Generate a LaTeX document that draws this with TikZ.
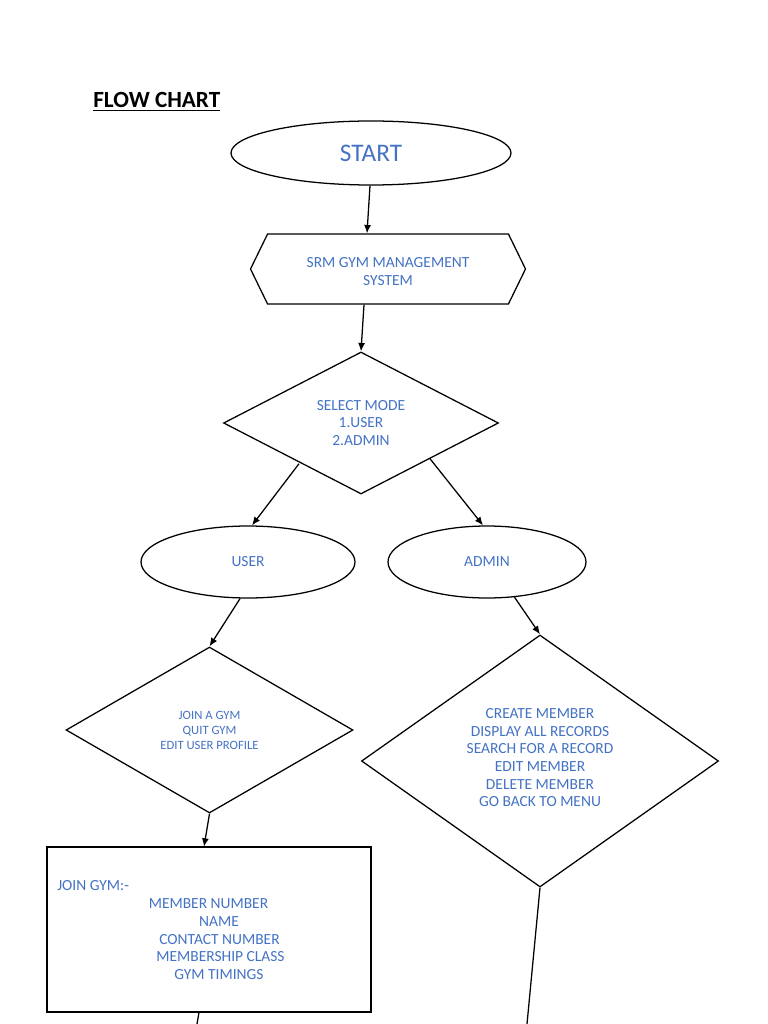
\documentclass[tikz,border=0pt]{standalone}
\usepackage{fontspec}
\setmainfont{Carlito}
\usetikzlibrary{calc,arrows.meta,shapes.geometric,shapes.symbols}
\definecolor{wordblue}{HTML}{4472C4}
\def\px{0.025cm}
\def\bluetext{\color{wordblue}\fontsize{11}{12.5}\selectfont}

\tikzset{
	flowline/.style={line width=0.9pt},
	flowarrow/.style={flowline, -{Latex[length=6pt,width=5pt]}},
	oval/.style={ellipse, draw, line width=0.9pt, inner sep=0pt, font=\bluetext},
	choice/.style={diamond, draw, line width=0.9pt, inner sep=0pt, align=center, font=\bluetext},
}

\begin{document}
\begin{tikzpicture}[x=\px, y=-\px]
			%%%%% START %%%%%
			\useasboundingbox (0, 0) rectangle (768, 1024);
			
			\node[anchor=base west, inner sep=0pt] (title) at (93, 108) {\fontsize{16.5}{19}\selectfont\bfseries\underline{FLOW CHART}};
			
			\node[oval, minimum width=280*\px, minimum height=64*\px, font=\color{wordblue}\fontsize{18}{21}\selectfont] (start) at (371, 153) {START};
			
			\node[signal, signal to=west and east, signal pointer angle=128, draw, line width=0.9pt, inner sep=0pt,
				minimum width=275*\px, minimum height=70*\px, font=\bluetext] (system) at (388, 269) {\raisebox{-2.8pt}[\height][\depth]{\begin{tabular}{@{}c@{}}SRM GYM MANAGEMENT\\SYSTEM\end{tabular}}};
			
			\node[choice, minimum width=275*\px, minimum height=142*\px] (mode) at (361, 423) {SELECT MODE\\1.USER\\2.ADMIN};
			
			\node[oval, minimum width=214*\px, minimum height=72*\px] (user) at (248, 562) {USER};
			\node[oval, minimum width=198*\px, minimum height=72*\px] (admin) at (487, 562) {ADMIN};
			
			\node[choice, minimum width=287*\px, minimum height=166*\px, font=\color{wordblue}\fontsize{9}{10.7}\selectfont] (usermenu) at (209.5, 730) {JOIN A GYM\\QUIT GYM\\EDIT USER PROFILE};
			\node[choice, minimum width=357*\px, minimum height=252*\px] (adminmenu) at (540, 761) {\\[-10pt]CREATE MEMBER\\DISPLAY ALL RECORDS\\SEARCH FOR A RECORD\\EDIT MEMBER\\DELETE MEMBER\\GO BACK TO MENU};
			
			\draw[line width=0.9pt] (47, 847) rectangle (371, 1012);
			\node[inner sep=0pt, minimum width=324*\px, minimum height=165*\px] (joinbox) at (209, 929.5) {};
			\node[anchor=west, inner sep=0pt, font=\bluetext] (joinhead) at (57, 886) {JOIN GYM:-};
			\node[inner sep=0pt, font=\bluetext] (memno) at (208.5, 904) {MEMBER NUMBER};
			\node[inner sep=0pt, font=\bluetext] (name) at (219, 922) {NAME};
			\node[inner sep=0pt, font=\bluetext] (contact) at (219.5, 940) {CONTACT NUMBER};
			\node[inner sep=0pt, font=\bluetext] (class) at (220.5, 957) {MEMBERSHIP CLASS};
			\node[inner sep=0pt, font=\bluetext] (timings) at (219, 975) {GYM TIMINGS};
			
			\coordinate (userend) at (197, 1024);
			\coordinate (adminend) at (527, 1024);
			
			\draw[flowarrow] ($(start.south)+(-1, 0)$) -- ($(system.north)+(-21, 0)$);
			\draw[flowarrow] ($(system.south)+(-24, 0)$) -- (mode.north);
			\draw[flowarrow] ($(mode.south west)+(7, 5)$) -- ($(user.north)+(4, 0)$);
			\draw[flowarrow] (mode.south east) -- ($(admin.north)+(-4, 0)$);
			\draw[flowarrow] ($(user.south)+(-8, 0)$) -- (usermenu.north);
			\draw[flowarrow] (admin.-52) -- (adminmenu.north);
			\draw[flowarrow] (usermenu.south) -- ($(joinbox.north)+(-5, 0)$);
			\draw[flowline] ($(joinbox.south)+(-10, 0)$) -- (userend);
			\draw[flowline] (adminmenu.south) -- (adminend);
			
			%%%%% END %%%%%
\end{tikzpicture}
\end{document}
